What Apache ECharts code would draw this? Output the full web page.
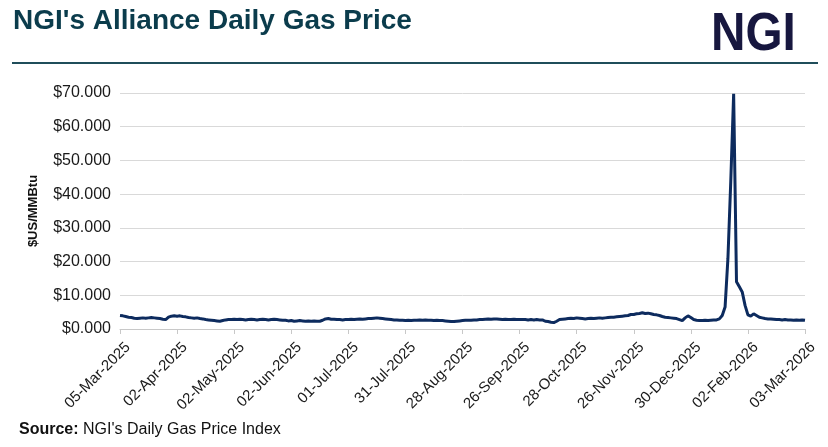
<!DOCTYPE html>
<html>
<head>
<meta charset="utf-8">
<script src="https://cdn.jsdelivr.net/npm/echarts@6/dist/echarts.min.js"></script>
<style>
  html, body { margin: 0; padding: 0; background: #fff; }
  #chart { width: 828px; height: 447px; }
</style>
</head>
<body>
<div id="chart"></div>
<script>
// tick labels shown every 20 trading days
const tickLabels = ['05-Mar-2025', '02-Apr-2025', '02-May-2025', '02-Jun-2025', '01-Jul-2025',
  '31-Jul-2025', '28-Aug-2025', '26-Sep-2025', '28-Oct-2025', '26-Nov-2025',
  '30-Dec-2025', '02-Feb-2026', '03-Mar-2026']
const step = 20

// daily price, $US/MMBtu
const prices = [
  4.0, 3.9, 3.7, 3.5, 3.4, 3.2, 3.1, 3.2, 3.3, 3.2,
  3.3, 3.4, 3.3, 3.2, 3.1, 2.9, 2.8, 3.5, 3.8, 3.9,
  3.8, 3.9, 3.7, 3.6, 3.4, 3.3, 3.2, 3.3, 3.1, 3.0,
  2.8, 2.7, 2.6, 2.5, 2.4, 2.3, 2.5, 2.7, 2.8, 2.8,
  2.9, 2.8, 2.9, 2.8, 2.7, 2.8, 2.9, 2.8, 2.7, 2.8,
  2.9, 2.8, 2.7, 2.8, 2.9, 2.8, 2.7, 2.6, 2.6, 2.4,
  2.5, 2.3, 2.4, 2.5, 2.4, 2.3, 2.4, 2.3, 2.4, 2.3,
  2.3, 2.6, 3.0, 3.1, 2.9, 2.9, 2.8, 2.8, 2.7, 2.8,
  2.8, 2.9, 2.8, 2.9, 3.0, 2.9, 3.0, 3.1, 3.1, 3.2,
  3.3, 3.2, 3.1, 3.0, 2.9, 2.8, 2.7, 2.7, 2.6, 2.6,
  2.5, 2.6, 2.5, 2.6, 2.6, 2.7, 2.6, 2.7, 2.6, 2.6,
  2.5, 2.6, 2.5, 2.5, 2.4, 2.3, 2.2, 2.2, 2.3, 2.4,
  2.5, 2.6, 2.6, 2.6, 2.7, 2.7, 2.8, 2.8, 2.9, 3.0,
  2.9, 3.0, 3.0, 2.9, 2.8, 2.9, 2.8, 2.8, 2.9, 2.8,
  2.8, 2.8, 2.8, 2.7, 2.8, 2.7, 2.8, 2.7, 2.7, 2.3,
  2.2, 2.0, 1.9, 2.3, 2.8, 2.9, 3.0, 3.1, 3.2, 3.1,
  3.3, 3.2, 3.1, 3.0, 3.1, 3.2, 3.1, 3.2, 3.3, 3.2,
  3.3, 3.4, 3.5, 3.5, 3.6, 3.7, 3.8, 3.9, 4.0, 4.3,
  4.3, 4.5, 4.6, 4.8, 4.6, 4.7, 4.5, 4.3, 4.2, 4.0,
  3.7, 3.5, 3.4, 3.3, 3.2, 3.1, 2.8, 2.5, 3.3, 3.9,
  3.4, 2.8, 2.6, 2.5, 2.5, 2.6, 2.5, 2.6, 2.7, 2.7,
  3.0, 4.0, 6.5, 21.0, 44.0, 69.8, 14.0, 12.5, 11.0, 7.0,
  4.2, 3.8, 4.5, 4.0, 3.5, 3.3, 3.1, 3.0, 3.0, 2.9,
  2.8, 2.8, 2.7, 2.8, 2.7, 2.7, 2.6, 2.7, 2.6, 2.7,
  2.6
]

const categories = prices.map((_, i) => i)
const fontFamily = '"Liberation Sans", Arial, sans-serif'
const labelFormatter = (v) => tickLabels[v / step] || ''

const chart = echarts.init(document.getElementById('chart'))
chart.setOption({
  animation: false,
  textStyle: { fontFamily },
  grid: [
    { left: 120, right: 23, top: 93, bottom: 118 },
    // same plot shifted a little right, only used to place the rotated date labels
    { left: 128, right: 15, top: 93, bottom: 118 }
  ],
  graphic: [
    {
      type: 'text', left: 13, top: 7,
      style: { text: "NGI's Alliance Daily Gas Price", fill: '#0b3c4c',
        font: 'bold 28px ' + fontFamily }
    },
    {
      type: 'text', left: 711, top: 9, scaleX: 0.9,
      style: { text: 'NGI', fill: '#17173f', font: 'bold 53px ' + fontFamily }
    },
    {
      type: 'rect', shape: { x: 12, y: 62, width: 806, height: 2 },
      style: { fill: '#1f4d5a' }
    },
    {
      type: 'text', left: 19, top: 422,
      style: {
        text: "{b|Source:} NGI's Daily Gas Price Index",
        fill: '#111', font: '16px ' + fontFamily,
        rich: { b: { fontWeight: 'bold', fontSize: 16, fill: '#111' } }
      }
    }
  ],
  xAxis: [
    {
      type: 'category',
      data: categories,
      boundaryGap: false,
      axisLine: { lineStyle: { color: '#c8c8c8', width: 1 } },
      axisTick: { show: true, interval: step - 1, length: 5, lineStyle: { color: '#c8c8c8' } },
      axisLabel: { show: false },
      splitLine: { show: false }
    },
    {
      type: 'category',
      gridIndex: 1,
      data: categories,
      boundaryGap: false,
      axisLine: { show: false },
      axisTick: { show: false },
      axisLabel: {
        interval: step - 1, rotate: 45, fontSize: 15, color: '#1a1a1a', margin: 16,
        formatter: labelFormatter
      },
      splitLine: { show: false }
    }
  ],
  yAxis: [
    {
      type: 'value',
      min: 0, max: 70, interval: 10,
      name: '$US/MMBtu',
      nameLocation: 'middle',
      nameRotate: 90,
      nameGap: 80,
      nameTextStyle: { fontSize: 13, fontWeight: 'bold', color: '#111' },
      axisLine: { show: false },
      axisTick: { show: false },
      axisLabel: { fontSize: 16, color: '#1a1a1a', margin: 9,
        formatter: (v) => '$' + v.toFixed(3) },
      splitLine: { lineStyle: { color: '#d9d9d9', width: 1 } }
    },
    {
      type: 'value', gridIndex: 1, min: 0, max: 70, show: false
    }
  ],
  series: [{
    type: 'line',
    data: prices,
    symbol: 'none',
    lineStyle: { color: '#0d2b5e', width: 3 }
  }]
})
</script>
</body>
</html>
